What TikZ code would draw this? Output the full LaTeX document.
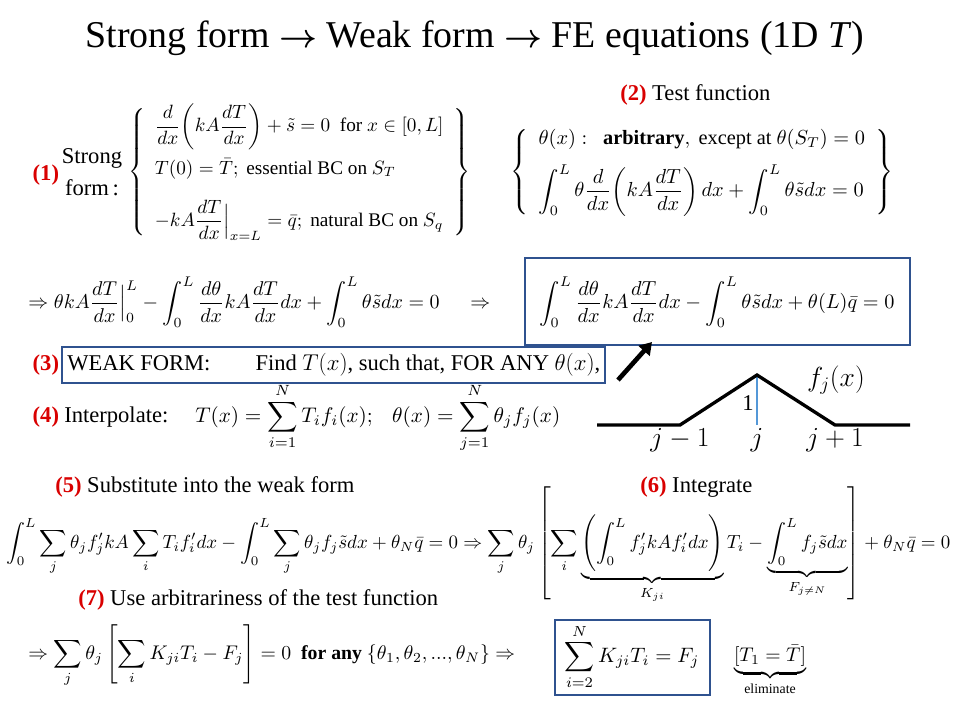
\documentclass[tikz,border=0pt]{standalone}
\usepackage{amsmath,graphicx}
\usepackage{fontspec}
\setmainfont{Liberation Serif}
\usetikzlibrary{arrows.meta}
\newlength\pxu \setlength\pxu{0.75bp}
\definecolor{bx}{RGB}{47,82,143}
\tikzset{red1/.style={text=red!85!black,font=\bfseries\fontsize{17}{20}\selectfont},
 txt/.style={font=\fontsize{17}{20}\selectfont, inner sep=0pt},
 eq/.style={inner sep=0pt},
 boxx/.style={draw=bx,line width=1.6pt}}
\newcommand{\fitw}[2]{\resizebox{#1\pxu}{!}{#2}}
\begin{document}
\begin{tikzpicture}[x=0.75bp,y=-0.75bp]
\useasboundingbox (0,0) rectangle (953,706);
\node[txt,font=\fontsize{28.5}{32}\selectfont] (title) at (475,38) {Strong form \textbf{$\boldsymbol\rightarrow$} Weak form \textbf{$\boldsymbol\rightarrow$} FE equations (1D \textit{T})};
% (1)
\node[red1,anchor=west] (l1) at (28,175) {(1)};
\node[txt,align=center] (sf) at (92,172) {Strong\\[4pt]form\,:};
\node[eq,anchor=west] (A) at (128,172) {\fitw{342}{$\left\{\begin{array}{l}
\displaystyle\frac{d}{dx}\!\left(kA\frac{dT}{dx}\right)+\tilde s=0\ \ \text{for}\ x\in[0,L]\\[10pt]
T(0)=\bar T;\ \text{essential BC on } S_T\\[10pt]
\displaystyle -kA\frac{dT}{dx}\Big|_{x=L}=\bar q;\ \text{natural BC on } S_q
\end{array}\right\}$}};
% (2)
\node[txt,anchor=west] (l2) at (620,95) {\textbf{\textcolor{red!85!black}{(2)}} Test function};
\node[eq,anchor=west] (B) at (510,172) {\fitw{383}{$\left\{\begin{array}{l}
\theta(x):\ \ \textbf{arbitrary},\ \text{except at}\ \theta(S_T)=0\\[6pt]
\displaystyle\int_0^L\theta\frac{d}{dx}\!\left(kA\frac{dT}{dx}\right)dx+\int_0^L\theta\tilde s dx=0
\end{array}\right\}$}};
% row
\node[eq,anchor=west] (C) at (28,302) {\fitw{462}{$\displaystyle\Rightarrow\theta kA\frac{dT}{dx}\Big|_0^L-\int_0^L\frac{d\theta}{dx}kA\frac{dT}{dx}dx+\int_0^L\theta\tilde s dx=0\quad\ \Rightarrow$}};
\draw[boxx] (525,258) rectangle (910,345);
\node[eq] (D) at (717,302) {\fitw{355}{$\displaystyle\int_0^L\frac{d\theta}{dx}kA\frac{dT}{dx}dx-\int_0^L\theta\tilde s dx+\theta(L)\bar q=0$}};
% (3)
\node[red1,anchor=west] (l3) at (28,365) {(3)};
\draw[boxx] (62,347) rectangle (605,383);
\node[txt,anchor=west] (wf) at (67,365) {\fitw{533}{WEAK FORM:\qquad Find $T(x)$, such that, FOR ANY $\theta(x)$,}};
\coordinate (ar1) at (618,380);
\coordinate (ar2) at (652,342);
\draw[line width=3.5pt,-{Triangle[length=9pt,width=11pt]}] (ar1) -- (ar2);
% (4)
\node[red1,anchor=west] (l4) at (28,417) {(4)};
\node[txt,anchor=west] (ip) at (64,417) {Interpolate:};
\node[eq,anchor=west] (E) at (195,418) {\fitw{365}{$\displaystyle T(x)=\sum_{i=1}^N T_i f_i(x);\ \ \ \theta(x)=\sum_{j=1}^N\theta_j f_j(x)$}};
\coordinate (h0) at (597,425); \coordinate (h1) at (680,425); \coordinate (hp) at (757,375);
\coordinate (hb) at (757,425); \coordinate (h2) at (835,425); \coordinate (h3) at (910,425);
\draw[cyan!60!blue!70,line width=0.8pt] (hp) -- (hb);
\draw[line width=2.5pt] (h0) -- (h1) -- (hp) -- (h2) -- (h3);
\node[txt] (one) at (748,403) {1};
\node[txt,font=\fontsize{20}{22}\selectfont] (fj) at (836,380) {$f_j(x)$};
\node[txt,font=\fontsize{20}{22}\selectfont] (jm) at (680,440) {$j-1$};
\node[txt,font=\fontsize{20}{22}\selectfont] (jj) at (757,440) {$j$};
\node[txt,font=\fontsize{20}{22}\selectfont] (jp) at (835,440) {$j+1$};
% (5)(6)
\node[txt,anchor=west] (l5) at (55,487) {\textbf{\textcolor{red!85!black}{(5)}} Substitute into the weak form};
\node[txt,anchor=west] (l6) at (640,487) {\textbf{\textcolor{red!85!black}{(6)}} Integrate};
\node[eq,anchor=west] (F) at (6,545) {\fitw{944}{$\displaystyle\int_0^L\sum_j\theta_j f_j'kA\sum_i T_i f_i'dx-\int_0^L\sum_j\theta_j f_j\tilde s dx+\theta_N\bar q=0\Rightarrow\sum_j\theta_j\left[\sum_i\underbrace{\left(\int_0^L f_j'kAf_i'dx\right)}_{K_{ji}}T_i-\underbrace{\int_0^L f_j\tilde s dx}_{F_{j\neq N}}\right]+\theta_N\bar q=0$}};
% (7)
\node[txt,anchor=west] (l7) at (78,600) {\textbf{\textcolor{red!85!black}{(7)}} Use arbitrariness of the test function};
\node[eq,anchor=west] (G) at (28,656) {\fitw{487}{$\displaystyle\Rightarrow\sum_j\theta_j\left[\sum_i K_{ji}T_i-F_j\right]=0\ \ \textbf{for any}\ \{\theta_1,\theta_2,...,\theta_N\}\Rightarrow$}};
\draw[boxx] (555,620) rectangle (710,695);
\node[eq] (H) at (632,657) {\fitw{135}{$\displaystyle\sum_{i=2}^N K_{ji}T_i=F_j$}};
\node[eq,anchor=north] (I) at (770,645) {\fitw{72}{$\underbrace{[T_1=\bar T]}_{\text{\scriptsize eliminate}}$}};
\end{tikzpicture}
\end{document}
